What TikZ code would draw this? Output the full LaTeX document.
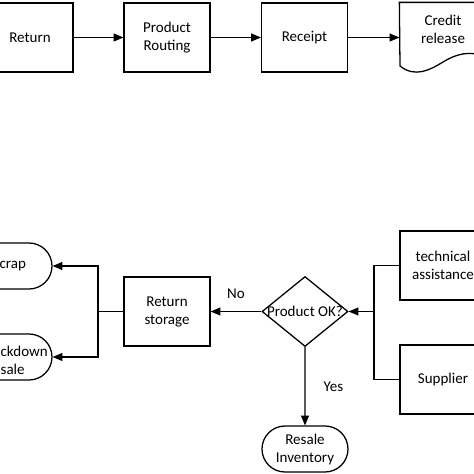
\documentclass[tikz,border=0pt]{standalone}
\usepackage{fontspec}
\setmainfont{Carlito}
\usepackage{tikz}
\usetikzlibrary{arrows,shapes.geometric,shapes.misc}
\tikzset{
  flownode/.style = {align=center, inner sep=0pt, text centered, font=\fontsize{15}{18}\selectfont, line width=0.45mm},
  proc/.style = {flownode, rectangle, black, draw=black, minimum width=86, minimum height=69},
  term/.style = {flownode, rounded rectangle, black, draw=black, minimum width=86, minimum height=46},
  dec/.style = {flownode, diamond, black, draw=black, minimum width=86, minimum height=70},
  txt/.style = {flownode, black},
  conn/.style = {line width=0.45mm, -triangle 45},
  line/.style = {line width=0.45mm},
}

\begin{document}
\begin{tikzpicture}[x=1pt, y=-1pt]
  \useasboundingbox (0,0) rectangle (474,474);
  \clip (0,0) rectangle (474,474);
  % upper row
  \node [proc] (ret) at (30,37.5) {Return};
  \node [proc] (rout) at (167,37.5) {Product\\Routing};
  \node [proc] (rec) at (304.5,37.5) {Receipt};
  \node [txt, minimum width=86, minimum height=69] (cred) at (443,37.5) {};
  \node [txt] at (443,29) {Credit\\release};
  \draw [line] (cred.north west) -- (cred.north east) -- (486,57)
    .. controls (470,50) and (456,54) .. (443,62)
    .. controls (430,70) and (415,78) .. (400,66) -- cycle;
  \draw [conn] (ret) -- (rout);
  \draw [conn] (rout) -- (rec);
  \draw [conn] (rec) -- (cred.west);
  % lower part
  \node [term] (scrap) at (9,266) {};
  \node [txt, anchor=west] at (-1,266) {crap};
  \node [term] (kd) at (9,357) {};
  \node [txt, anchor=west, align=left] at (0,360) {ckdown\\sale};
  \node [proc] (rs) at (167,311.5) {Return\\storage};
  \node [dec, label={[txt]center:Product OK?}] (ok) at (305,311.5) {};
  \node [proc] (tech) at (443,265.5) {technical\\assistance};
  \node [proc] (sup) at (443,379.5) {Supplier};
  \node [term] (res) at (305,449) {Resale\\Inventory};
  \coordinate (jl) at (98,311.5);
  \coordinate (jr) at (374,311.5);
  \draw [line] (rs) -- (jl);
  \draw [conn] (jl) |- (scrap);
  \draw [conn] (jl) |- (kd);
  \draw [conn] (ok) -- node [txt, above=12pt] {No} (rs);
  \draw [line] (tech) -| (jr);
  \draw [line] (sup) -| (jr);
  \draw [conn] (jr) -- (ok);
  \draw [conn] (ok) -- node [txt, right=18pt] {Yes} (res);
\end{tikzpicture}
\end{document}
